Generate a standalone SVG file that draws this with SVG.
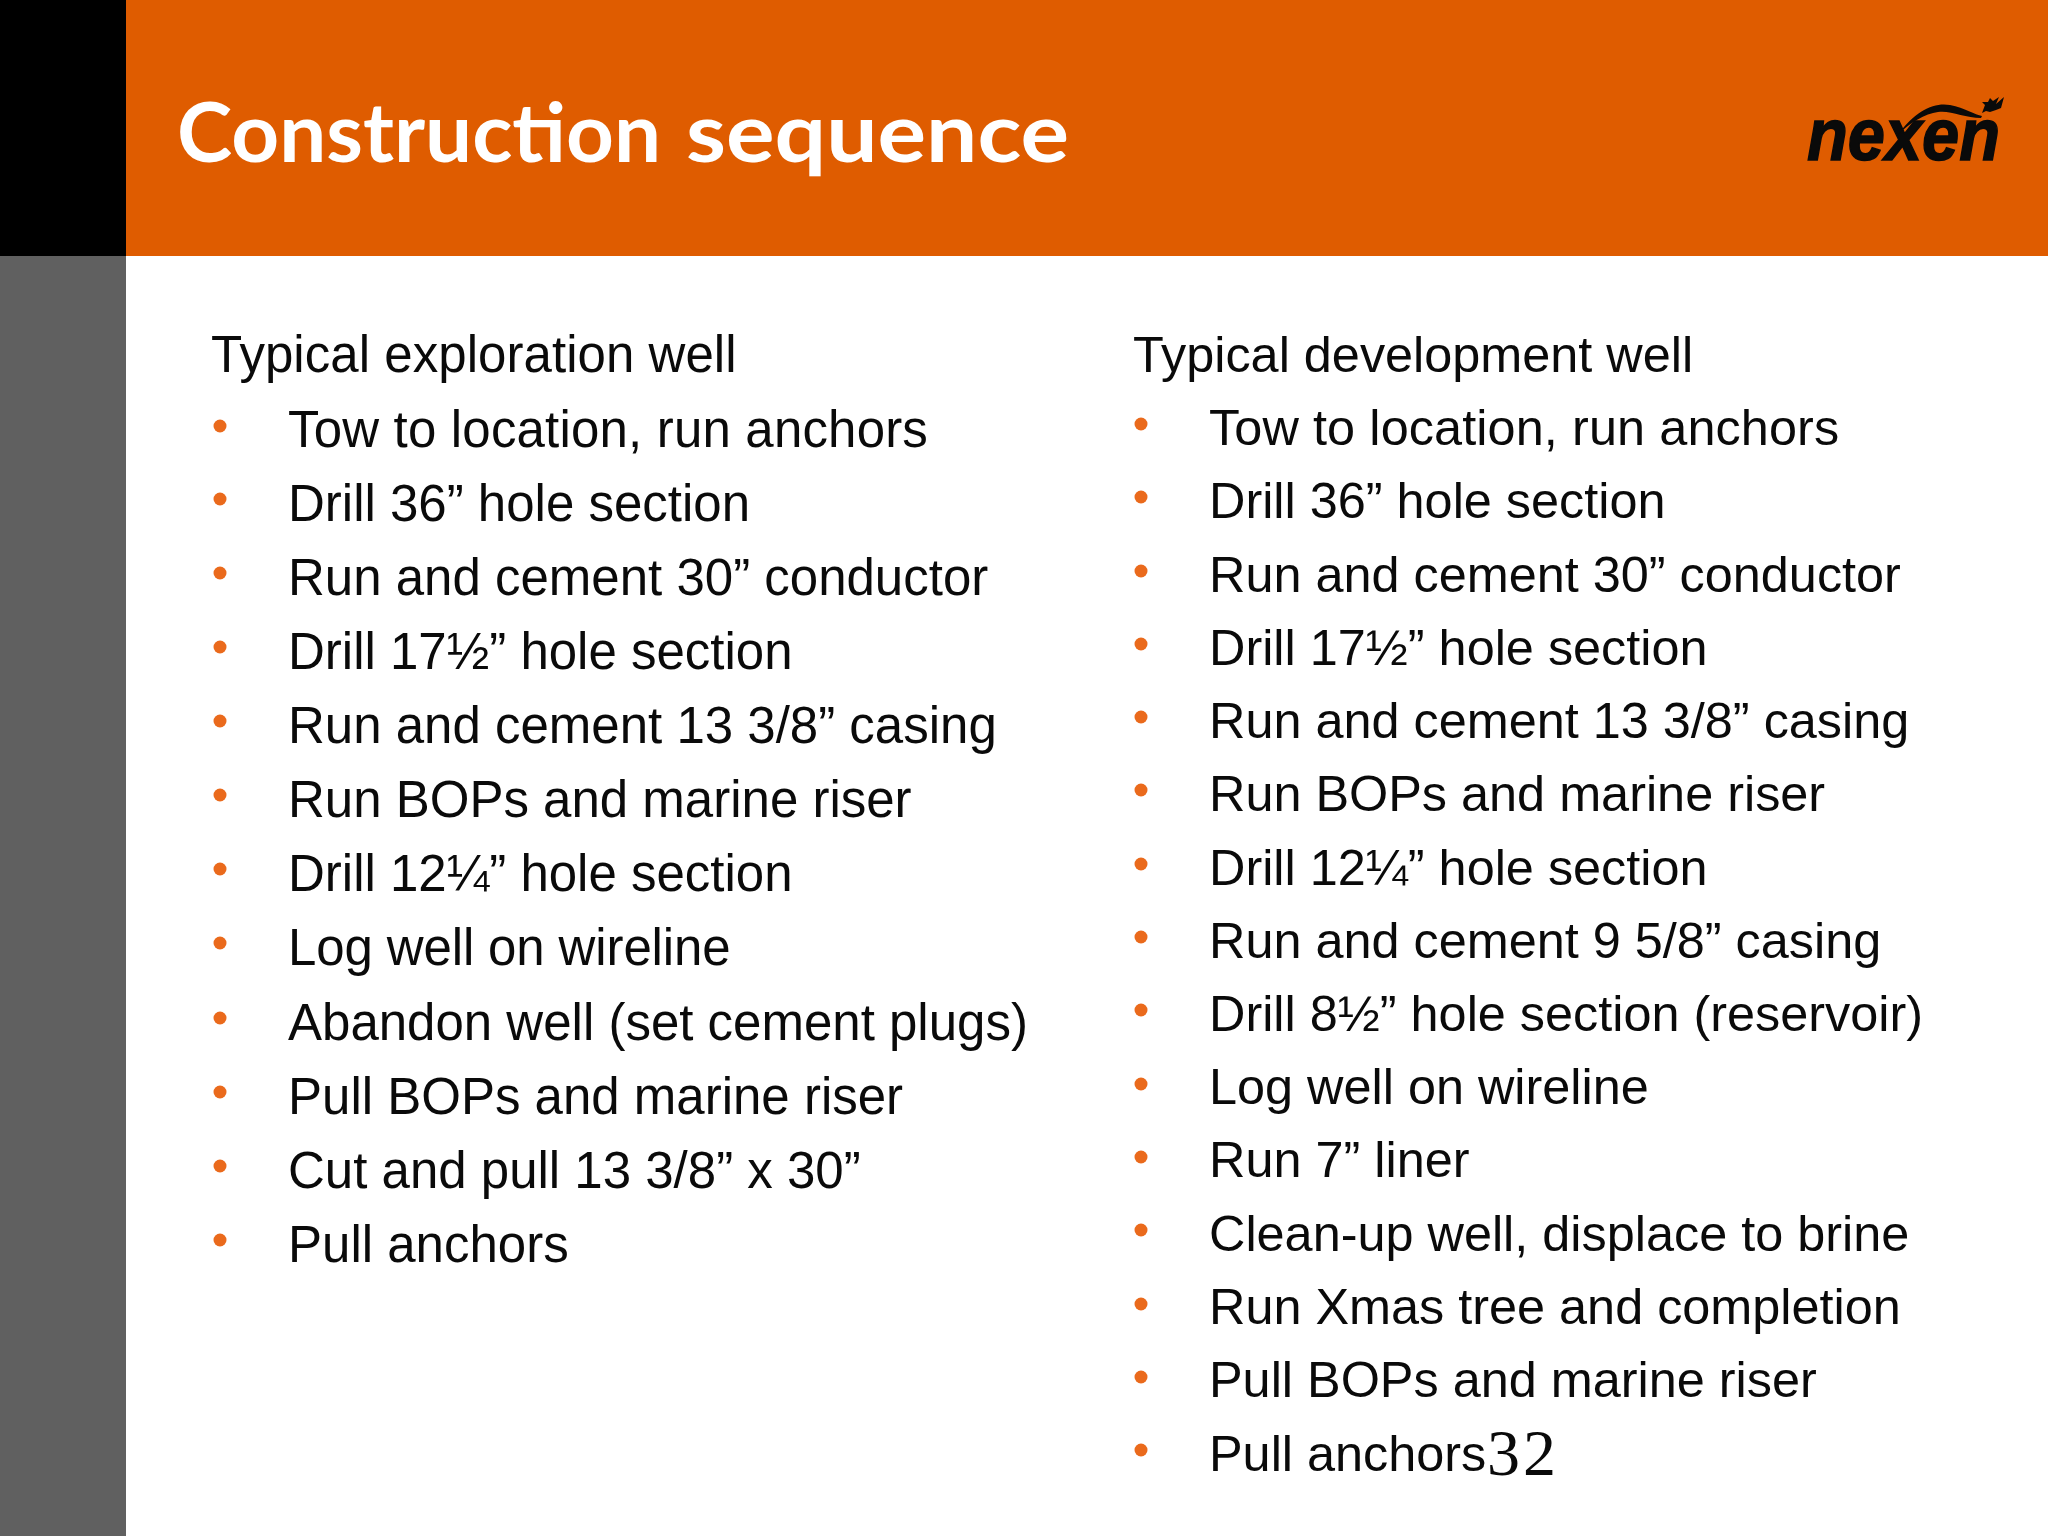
<svg xmlns="http://www.w3.org/2000/svg" width="2048" height="1536" viewBox="0 0 2048 1536">
<style>
.t{font-family:"Liberation Sans",Arial,sans-serif;font-size:51px;fill:#0a0a0a}
.r{font-size:50.4px}
.b{fill:#ea6a1c}
</style>
<rect width="2048" height="1536" fill="#ffffff"/>
<rect x="126" width="1922" height="256" fill="#df5c00"/>
<rect width="126" height="256" fill="#000000"/>
<rect y="256" width="126" height="1280" fill="#606060"/>
<text id="title" y="162" font-family="Lato,'Liberation Sans',sans-serif" font-weight="700" font-size="82" fill="#ffffff"><tspan x="177" textLength="484" lengthAdjust="spacingAndGlyphs">Construction</tspan> <tspan x="686" textLength="383" lengthAdjust="spacingAndGlyphs">sequence</tspan></text>
<g id="logo">
<text x="1807" y="160" font-family="'Liberation Sans',Arial,sans-serif" font-weight="700" font-style="italic" font-size="74" fill="#0a0a0a" stroke="#0a0a0a" stroke-width="1.5" textLength="193" lengthAdjust="spacingAndGlyphs">nexen</text>
<path d="M1898 135C1915 110 1935 102 1950 105C1965 108 1975 115 1982 116L1981 118C1965 118 1950 110 1938 112C1925 114 1910 122 1898 135Z" fill="#0a0a0a"/>
<path d="M1982 113L1985 105L1982 102L1988 102L1990 98L1993 101L1999 97L1996 104L2004 97L2001 108L1996 110L1990 112L1986 111Z" fill="#0a0a0a"/>
</g>
<g id="left-column">
<text class="t" x="211" y="372" letter-spacing="0.05">Typical exploration well</text>
<g id="left-items">
<circle class="b" cx="220" cy="426" r="6.5"/><text class="t" x="288" y="447" letter-spacing="0.18">Tow to location, run anchors</text>
<circle class="b" cx="220" cy="499" r="6.5"/><text class="t" x="288" y="521">Drill 36” hole section</text>
<circle class="b" cx="220" cy="573" r="6.5"/><text class="t" x="288" y="595">Run and cement 30” conductor</text>
<circle class="b" cx="220" cy="647" r="6.5"/><text class="t" x="288" y="669">Drill 17½” hole section</text>
<circle class="b" cx="220" cy="721" r="6.5"/><text class="t" x="288" y="743">Run and cement 13 3/8” casing</text>
<circle class="b" cx="220" cy="795" r="6.5"/><text class="t" x="288" y="817">Run BOPs and marine riser</text>
<circle class="b" cx="220" cy="869" r="6.5"/><text class="t" x="288" y="891">Drill 12¼” hole section</text>
<circle class="b" cx="220" cy="943" r="6.5"/><text class="t" x="288" y="965" letter-spacing="-0.13">Log well on wireline</text>
<circle class="b" cx="220" cy="1018" r="6.5"/><text class="t" x="288" y="1040">Abandon well (set cement plugs)</text>
<circle class="b" cx="220" cy="1092" r="6.5"/><text class="t" x="288" y="1114">Pull BOPs and marine riser</text>
<circle class="b" cx="220" cy="1166" r="6.5"/><text class="t" x="288" y="1188">Cut and pull 13 3/8” x 30”</text>
<circle class="b" cx="220" cy="1240" r="6.5"/><text class="t" x="288" y="1262">Pull anchors</text>
</g>
</g>
<g id="right-column">
<text class="t r" x="1133" y="372">Typical development well</text>
<g id="right-items">
<circle class="b" cx="1141" cy="424" r="6.5"/><text class="t r" x="1209" y="445" letter-spacing="0.1">Tow to location, run anchors</text>
<circle class="b" cx="1141" cy="497" r="6.5"/><text class="t r" x="1209" y="518">Drill 36” hole section</text>
<circle class="b" cx="1141" cy="571" r="6.5"/><text class="t r" x="1209" y="592">Run and cement 30” conductor</text>
<circle class="b" cx="1141" cy="644" r="6.5"/><text class="t r" x="1209" y="665">Drill 17½” hole section</text>
<circle class="b" cx="1141" cy="717" r="6.5"/><text class="t r" x="1209" y="738">Run and cement 13 3/8” casing</text>
<circle class="b" cx="1141" cy="790" r="6.5"/><text class="t r" x="1209" y="811">Run BOPs and marine riser</text>
<circle class="b" cx="1141" cy="864" r="6.5"/><text class="t r" x="1209" y="885">Drill 12¼” hole section</text>
<circle class="b" cx="1141" cy="937" r="6.5"/><text class="t r" x="1209" y="958">Run and cement 9 5/8” casing</text>
<circle class="b" cx="1141" cy="1010" r="6.5"/><text class="t r" x="1209" y="1031">Drill 8½” hole section (reservoir)</text>
<circle class="b" cx="1141" cy="1084" r="6.5"/><text class="t r" x="1209" y="1104">Log well on wireline</text>
<circle class="b" cx="1141" cy="1157" r="6.5"/><text class="t r" x="1209" y="1177">Run 7” liner</text>
<circle class="b" cx="1141" cy="1230" r="6.5"/><text class="t r" x="1209" y="1251">Clean-up well, displace to brine</text>
<circle class="b" cx="1141" cy="1304" r="6.5"/><text class="t r" x="1209" y="1324">Run Xmas tree and completion</text>
<circle class="b" cx="1141" cy="1377" r="6.5"/><text class="t r" x="1209" y="1397">Pull BOPs and marine riser</text>
<circle class="b" cx="1141" cy="1450" r="6.5"/><text class="t r" x="1209" y="1471">Pull anchors</text>
</g>
</g>
<text id="page-number" x="1487" y="1475" font-family="'Liberation Serif','Times New Roman',serif" font-size="66" letter-spacing="3" fill="#0a0a0a">32</text>
</svg>
